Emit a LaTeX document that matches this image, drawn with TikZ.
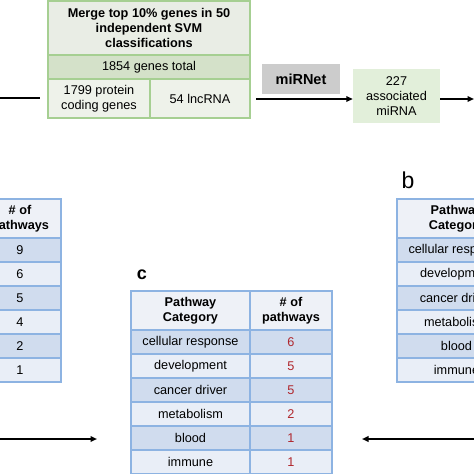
\documentclass[tikz,border=0pt]{standalone}
\usepackage{fontspec}
\setmainfont{Liberation Sans}
\usetikzlibrary{arrows.meta}
\definecolor{gborder}{HTML}{A6CF92}
\definecolor{gtitle}{HTML}{E9EDE5}
\definecolor{gmid}{HTML}{D4E1C9}
\definecolor{glow}{HTML}{EEF2EA}
\definecolor{gbox}{HTML}{E2EFDA}
\definecolor{grey}{HTML}{CCCCCC}
\definecolor{tborder}{HTML}{8DB3E2}
\definecolor{thead}{HTML}{EEF1F7}
\definecolor{rowd}{HTML}{D0DCEE}
\definecolor{rowl}{HTML}{E9EEF7}
\definecolor{vred}{HTML}{B0272D}
\begin{document}
\begin{tikzpicture}[x=1pt,y=-1pt,
  txt/.style={font=\fontsize{12.7}{15}\selectfont, align=center},
  gcell/.style={txt, draw=gborder, line width=1.2pt, inner sep=0pt},
  tcell/.style={txt, draw=tborder, line width=1.2pt, inner sep=0pt, minimum height=24pt},
  thd/.style={tcell, minimum height=39pt, fill=thead, font=\bfseries\fontsize{12.7}{15}\selectfont},
  conn/.style={line width=1.8pt, -{Triangle[length=6.5pt,width=5.5pt]}},
  plain/.style={line width=1.8pt},
  lab/.style={inner sep=0pt, anchor=center}
]
\useasboundingbox (0,0) rectangle (474,474);
\clip (0,0) rectangle (474,474);

% ---- top green box
\node[gcell, fill=gtitle, minimum width=202pt, minimum height=54pt, font=\bfseries\fontsize{12.7}{14.7}\selectfont] (merge) at (149,28) {Merge top 10\% genes in 50\\independent SVM\\classifications};
\node[gcell, fill=gmid, minimum width=202pt, minimum height=24pt] (total) at (149,67) {1854 genes total};
\node[gcell, fill=glow, minimum width=102pt, minimum height=39pt] (prot) at (99,98.5) {1799 protein\\coding genes};
\node[gcell, fill=glow, minimum width=100pt, minimum height=39pt] (lnc) at (200,98.5) {54 lncRNA};

\coordinate (lfree) at (-5,98);
\coordinate (lend) at (40,98);
\draw[plain] (lfree) -- (lend);

\node[fill=grey, minimum width=78pt, minimum height=30pt, inner sep=0pt, font=\bfseries\fontsize{14.5}{16}\selectfont] (mirnet) at (301,79) {miRNet};
\node[txt, fill=gbox, minimum width=87pt, minimum height=54pt, inner sep=0pt] (mirna) at (396.5,96) {227\\associated\\miRNA};
\coordinate (mstart) at (256,99);
\draw[conn] (mstart) -- (mirna.west |- 0,99);
\coordinate (rfree) at (474,99);
\draw[conn] (mirna.east |- 0,99) -- (rfree);

% ---- table a (clipped, left)
\node[thd, minimum width=82pt] (a-h) at (20,218.5) {\# of\\pathways};
\foreach \v/\f [count=\i] in {9/rowd,6/rowl,5/rowd,4/rowl,2/rowd,1/rowl} {
  \node[tcell, fill=\f, minimum width=82pt] (a-v\i) at (20,226+24*\i) {\v};
}

% ---- table b (clipped, right)
\node[lab, font=\fontsize{23}{23}\selectfont] (blab) at (408,180) {b};
\node[thd, minimum width=119pt] (b-h) at (456.5,218.5) {Pathway\\Category};
\foreach \l/\f [count=\i] in {cellular response/rowd,development/rowl,cancer driver/rowd,metabolism/rowl,blood/rowd,immune/rowl} {
  \node[tcell, fill=\f, minimum width=119pt] (b-l\i) at (456.5,226+24*\i) {\l};
}

% ---- table c (centre)
\node[lab, font=\bfseries\fontsize{18}{18}\selectfont] (clab) at (142,275) {c};
\node[thd, minimum width=119pt] (c-h1) at (190.5,310.5) {Pathway\\Category};
\node[thd, minimum width=82pt] (c-h2) at (291,310.5) {\# of\\pathways};
\foreach \l/\v/\f [count=\i] in {cellular response/6/rowd,development/5/rowl,cancer driver/5/rowd,metabolism/2/rowl,blood/1/rowd,immune/1/rowl} {
  \node[tcell, fill=\f, minimum width=119pt] (c-l\i) at (190.5,318+24*\i) {\l};
  \node[tcell, fill=\f, minimum width=82pt, text=vred] (c-v\i) at (291,318+24*\i) {\v};
}

% ---- bottom arrows
\coordinate (blfree) at (0,439);
\coordinate (blend) at (97,439);
\draw[conn] (blfree) -- (blend);
\coordinate (brfree) at (474,439);
\coordinate (brend) at (362,439);
\draw[conn] (brfree) -- (brend);
\end{tikzpicture}
\end{document}
